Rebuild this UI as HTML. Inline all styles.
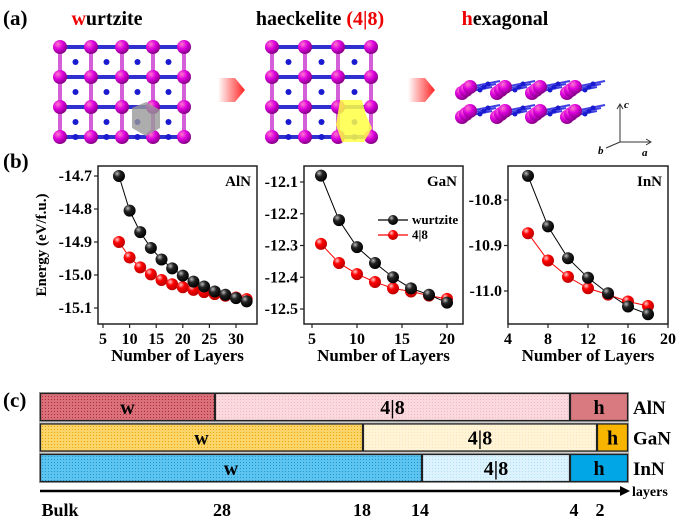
<!DOCTYPE html>
<html><head><meta charset="utf-8">
<style>
html,body{margin:0;padding:0;background:#fff;}
svg{display:block;font-family:"Liberation Serif",serif;font-weight:bold;}
</style></head>
<body>
<svg id="fig" width="685" height="520" viewBox="0 0 685 520" xmlns="http://www.w3.org/2000/svg">
<defs>
<radialGradient id="gBlack" cx="35%" cy="30%" r="70%"><stop offset="0" stop-color="#bbb"/><stop offset="0.4" stop-color="#222"/><stop offset="1" stop-color="#000"/></radialGradient>
<radialGradient id="gRed" cx="35%" cy="30%" r="70%"><stop offset="0" stop-color="#fcc"/><stop offset="0.4" stop-color="#f00"/><stop offset="1" stop-color="#b00"/></radialGradient>
<radialGradient id="gMag" cx="35%" cy="30%" r="70%"><stop offset="0" stop-color="#f7c"/><stop offset="0.5" stop-color="#d0d"/><stop offset="1" stop-color="#808"/></radialGradient>
<linearGradient id="gArrow" x1="0" x2="1"><stop offset="0" stop-color="#fff"/><stop offset="1" stop-color="#f22"/></linearGradient>
<pattern id="pRed" width="3" height="3" patternUnits="userSpaceOnUse"><rect width="3" height="3" fill="#d9707a"/><rect width="1" height="1" fill="#b02a3a"/></pattern>
<pattern id="pRedL" width="3" height="3" patternUnits="userSpaceOnUse"><rect width="3" height="3" fill="#fadadf"/><rect width="1" height="1" fill="#f0b7bf"/></pattern>
<pattern id="pYel" width="3" height="3" patternUnits="userSpaceOnUse"><rect width="3" height="3" fill="#fbd46a"/><rect width="1" height="1" fill="#e8a800"/></pattern>
<pattern id="pYelL" width="3" height="3" patternUnits="userSpaceOnUse"><rect width="3" height="3" fill="#fff4d8"/><rect width="1" height="1" fill="#fbe5b0"/></pattern>
<pattern id="pBlu" width="3" height="3" patternUnits="userSpaceOnUse"><rect width="3" height="3" fill="#5cc4ef"/><rect width="1" height="1" fill="#1a98d8"/></pattern>
<pattern id="pBluL" width="3" height="3" patternUnits="userSpaceOnUse"><rect width="3" height="3" fill="#dcf2fc"/><rect width="1" height="1" fill="#b4e2f7"/></pattern>
</defs>

<text x="3" y="25" font-size="21">(a)</text>
<text x="107" y="25" font-size="20" text-anchor="middle"><tspan fill="#e00">w</tspan>urtzite</text>
<text x="320" y="25" font-size="20" text-anchor="middle">haeckelite <tspan fill="#e00">(4|8)</tspan></text>
<text x="505" y="25" font-size="20" text-anchor="middle"><tspan fill="#e00">h</tspan>exagonal</text>
<g id="structs"></g>
<polygon points="218,78 235,78 245,90 235,102 218,102" fill="url(#gArrow)"/>
<polygon points="408,78 425,78 435,90 425,102 408,102" fill="url(#gArrow)"/>
<g stroke="#333" stroke-width="1" fill="none">
<line x1="620" y1="142" x2="620" y2="105"/><polyline points="617,109 620,104 623,109"/>
<line x1="620" y1="142" x2="650" y2="142"/><polyline points="646,139 651,142 646,145"/>
<line x1="620" y1="142" x2="606" y2="148"/>
</g>
<text x="624" y="108" font-size="11" font-style="italic">c</text>
<text x="642" y="156" font-size="11" font-style="italic">a</text>
<text x="598" y="154" font-size="11" font-style="italic">b</text>

<text x="3" y="168" font-size="21">(b)</text>
<text transform="translate(46,245) rotate(-90)" font-size="15" text-anchor="middle">Energy (eV/f.u.)</text>
<g id="charts"></g>

<text x="3" y="407" font-size="21">(c)</text>
<g id="bars"></g>
<line x1="40" y1="491" x2="622" y2="491" stroke="#000" stroke-width="2.5"/>
<polygon points="620,486 630,491 620,496" fill="#000"/>
<text x="632" y="496" font-size="14">layers</text>
<g id="ticksC" font-size="18"></g>
</svg>

<script>
const NS="http://www.w3.org/2000/svg";
function mk(tag,attrs,parent){const e=document.createElementNS(NS,tag);for(const k in attrs)e.setAttribute(k,attrs[k]);parent.appendChild(e);return e;}

// ---- chart data ----
const alnX=[8,10,12,14,16,18,20,22,24,26,28,30,32];
const alnWz=[-14.70,-14.805,-14.87,-14.918,-14.953,-14.98,-15.002,-15.02,-15.035,-15.05,-15.06,-15.07,-15.08];
const alnHk=[-14.90,-14.947,-14.977,-14.998,-15.015,-15.028,-15.037,-15.045,-15.052,-15.058,-15.063,-15.068,-15.073];
const ganX=[6,8,10,12,14,16,18,20];
const ganWz=[-12.08,-12.22,-12.305,-12.355,-12.40,-12.435,-12.455,-12.48];
const ganHk=[-12.295,-12.355,-12.39,-12.415,-12.435,-12.445,-12.458,-12.468];
const innX=[6,8,10,12,14,16,18];
const innWz=[-10.747,-10.858,-10.928,-10.971,-11.005,-11.034,-11.051];
const innHk=[-10.873,-10.933,-10.969,-10.994,-11.008,-11.023,-11.033];
const alnXTicks=[5,10,15,20,25,30];
const alnYTicks=[-14.7,-14.8,-14.9,-15.0,-15.1];
const ganXTicks=[5,10,15,20];
const ganYTicks=[-12.1,-12.2,-12.3,-12.4,-12.5];
const innXTicks=[4,8,12,16,20];
const innYTicks=[-10.8,-10.9,-11.0];
const materials=['AlN','GaN','InN'];
const layerLabels=['Bulk','28','18','14','4','2'];

// ---- crystal structures (decorative) ----
const S=document.getElementById('structs');
function lattice(x0,y0,cols,rows,dx,dy){
  for(let r=0;r<rows;r++)for(let c=0;c<cols;c++){
    const x=x0+c*dx, y=y0+r*dy;
    if(c<cols-1) mk('line',{x1:x,y1:y,x2:x+dx,y2:y,stroke:'#3030d0','stroke-width':4},S);
    if(r<rows-1) mk('line',{x1:x,y1:y,x2:x,y2:y+dy,stroke:'#d45fd8','stroke-width':4},S);
  }
  for(let r=0;r<rows;r++)for(let c=0;c<cols;c++){
    const x=x0+c*dx, y=y0+r*dy;
    mk('circle',{cx:x,cy:y,r:7,fill:'url(#gMag)'},S);
    if(c<cols-1) mk('circle',{cx:x+dx/2,cy:y+(r<rows-1?dy/2:0),r:3,fill:'#1a1ad0'},S);
  }
}
lattice(60,47,5,4,31,30);
mk('polygon',{points:'132,108 146,102 160,110 160,128 146,136 132,128',fill:'#999','fill-opacity':0.8},S);
lattice(272,47,4,4,33,30);
mk('polygon',{points:'340,100 362,100 366,115 372,128 364,142 342,142 336,125',fill:'#ff4','fill-opacity':0.85},S);
for(let L=0;L<2;L++){for(let i=0;i<4;i++){for(let k=0;k<3;k++){
  const x=462+i*35+k*4, y=93+L*24-k*3;
  mk('line',{x1:x,y1:y,x2:x+30,y2:y-6,stroke:'#4040e0','stroke-width':2},S);
  mk('circle',{cx:x,cy:y,r:7,fill:'url(#gMag)'},S);
  mk('circle',{cx:x+18,cy:y-3,r:2.5,fill:'#1a1ad0'},S);
}}}

const panels=[
 {name:'aln',title:'AlN',box:[98,166,257,324],xd:[5,30],xr:[103,236],yd:[-14.7,-15.1],yr:[176,308],x:alnX,wz:alnWz,hk:alnHk,xt:alnXTicks,yt:alnYTicks,r:6},
 {name:'gan',title:'GaN',box:[304,166,463,324],xd:[5,20],xr:[312,447],yd:[-12.1,-12.5],yr:[182,309],x:ganX,wz:ganWz,hk:ganHk,xt:ganXTicks,yt:ganYTicks,r:6,legend:true},
 {name:'inn',title:'InN',box:[508,166,668,324],xd:[4,20],xr:[508,668],yd:[-10.8,-11.0],yr:[200,291],x:innX,wz:innWz,hk:innHk,xt:innXTicks,yt:innYTicks,r:6}
];
const C=document.getElementById('charts');
panels.forEach(p=>{
  const g=mk('g',{},C);
  
  
  const sx=v=>p.xr[0]+(v-p.xd[0])*(p.xr[1]-p.xr[0])/(p.xd[1]-p.xd[0]);
  const sy=v=>p.yr[0]+(v-p.yd[0])*(p.yr[1]-p.yr[0])/(p.yd[1]-p.yd[0]);
  const [x0,y0,x1,y1]=p.box;
  const fr=mk('rect',{x:x0,y:y0,width:x1-x0,height:y1-y0,fill:'none',stroke:'#222','stroke-width':1.5},g);
  
  
  p.xt.forEach(t=>{
    const x=sx(t);
    mk('line',{x1:x,y1:y1,x2:x,y2:y1+4,stroke:'#222','stroke-width':1.2},g);
    const tx=mk('text',{x:x,y:y1+20,'font-size':16,'text-anchor':'middle'},g);
    tx.textContent=t;
    
    
  });
  p.yt.forEach(t=>{
    const y=sy(t);
    mk('line',{x1:x0,y1:y,x2:x0-4,y2:y,stroke:'#222','stroke-width':1.2},g);
    const ty=mk('text',{x:x0-6,y:y+5,'font-size':16,'text-anchor':'end'},g);
    ty.textContent=t.toFixed(1);
    
    
  });
  const xt=mk('text',{x:(x0+x1)/2,y:361,'font-size':17,'text-anchor':'middle'},g);
  xt.textContent='Number of Layers';
  
  
  const tt=mk('text',{x:x1-6,y:y0+20,'font-size':15,'text-anchor':'end'},g);
  tt.textContent=p.title;
  
  
  [['hk','#f00','url(#gRed)'],['wz','#000','url(#gBlack)']].forEach(([k,col,fill])=>{
    const pts=p.x.map((v,i)=>sx(v)+','+sy(p[k][i])).join(' ');
    const ln=mk('polyline',{points:pts,fill:'none',stroke:col,'stroke-width':1},g);
    
    
    p.x.forEach((v,i)=>{
      const c=mk('circle',{cx:sx(v),cy:sy(p[k][i]),r:p.r,fill:fill},g);
      
      
    });
  });
  if(p.legend){
    [['wurtzite','#000','url(#gBlack)',220],['4|8','#f00','url(#gRed)',235]].forEach(([lab,col,fill,y])=>{
      const lg=mk('g',{},g);
      
      
      mk('line',{x1:378,y1:y,x2:408,y2:y,stroke:col,'stroke-width':1.2},lg);
      mk('circle',{cx:393,cy:y,r:5,fill:fill},lg);
      const t=mk('text',{x:412,y:y+4,'font-size':13},lg);
      t.textContent=lab;
    });
  }
});

// ---- (c) phase bars ----
const wzEnd=[215,363,422];
const hStart=[570,597,570];
const fills=[['url(#pRed)','url(#pRedL)','#d97a80'],['url(#pYel)','url(#pYelL)','#f7b500'],['url(#pBlu)','url(#pBluL)','#00a6e6']];
const B=document.getElementById('bars');
materials.forEach((m,i)=>{
  const y=393+i*30.5, h=28, L=40, R=628;
  const g=mk('g',{},B);
  
  
  mk('rect',{x:L-1,y:y-1,width:R-L+2,height:h+2,fill:'#999'},g);
  const segs=[[L,wzEnd[i],'w'],[wzEnd[i],hStart[i],'4|8'],[hStart[i],R,'h']];
  segs.forEach((s,j)=>{
    mk('rect',{x:s[0]+0.5,y:y+0.5,width:s[1]-s[0]-1,height:h-1,fill:fills[i][j],stroke:'#222','stroke-width':1.2},g);
    const t=mk('text',{x:(s[0]+s[1])/2,y:y+21,'font-size':20,'text-anchor':'middle'},g);
    t.textContent=s[2];
  });
  const lt=mk('text',{x:633,y:y+21,'font-size':19},g);
  lt.textContent=m;
});
const layerX=[60,222,362,420,574,600];
const T=document.getElementById('ticksC');
layerLabels.forEach((l,i)=>{
  const t=mk('text',{x:layerX[i],y:516,'text-anchor':'middle'},T);
  t.textContent=l;
  
  
});
</script>
</body></html>
